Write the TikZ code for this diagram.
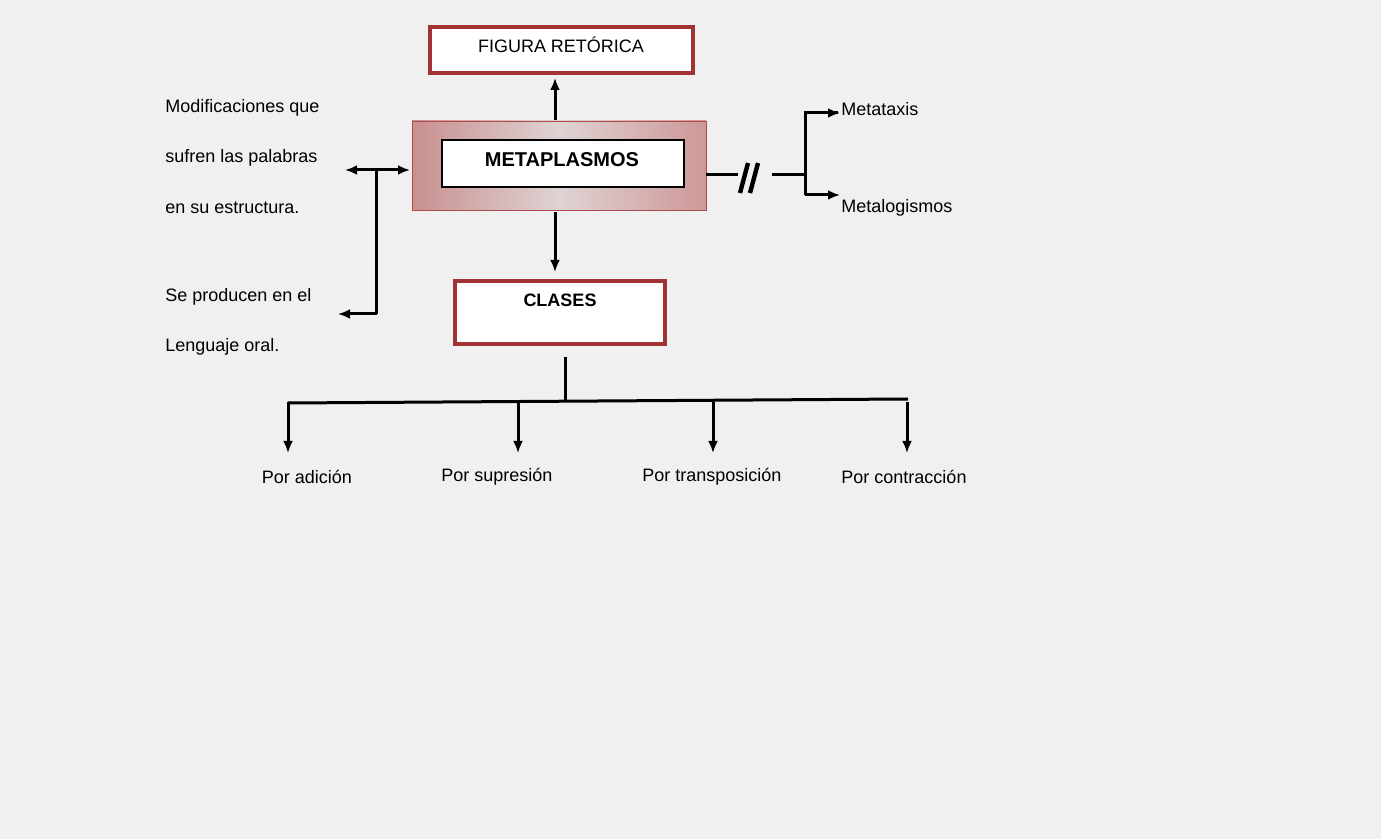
\documentclass[tikz,border=0pt]{standalone}
\usepackage{fontspec}
\setmainfont{Liberation Sans}
\begin{document}
\begin{tikzpicture}[x=0.5pt,y=-0.5pt,
  ln/.style={line width=1.5pt},
  ar/.style={ln,-{Latex[length=6pt,width=5pt]}},
  rbox/.style={draw=red!55!black!80,line width=1.8pt,fill=white},
  lbl/.style={font=\fontsize{9}{11}\selectfont,inner sep=0pt},
  ll/.style={lbl,anchor=west}]
\usetikzlibrary{arrows.meta}
\fill[gray!12] (0,0) rectangle (1381,839);
\useasboundingbox (0,0) rectangle (1381,839);
% boxes
\draw[rbox] (430,27) rectangle (693,73);
\node[lbl] (fig) at (561,45) {FIGURA RETÓRICA};
\coordinate (figb) at (555,78);
\shade[left color=red!35!gray!65, right color=red!35!gray!60, middle color=red!15!gray!30, draw=red!40!gray] (412,121) rectangle (706,210);
\draw[line width=0.9pt,fill=white] (442,140) rectangle (684,187);
\node[lbl,font=\fontsize{10}{12}\selectfont\bfseries] (met) at (562,160) {METAPLASMOS};
\draw[rbox] (455,281) rectangle (665,344);
\node[lbl,font=\fontsize{9}{11}\selectfont\bfseries] (cla) at (560,300) {CLASES};
% vertical arrows
\coordinate (mt) at (555,120);
\coordinate (mb) at (555,212);
\coordinate (ct) at (555,272);
\draw[ar] (mt) -- (figb);
\draw[ar] (mb) -- (ct);
% classes tree
\coordinate (c0) at (565,357);
\coordinate (c1) at (565,401);
\draw[ln] (c0) -- (c1);
\draw[ln] (288,403) -- (908,399);
\foreach \x/\t/\lx in {288/Por adición/307, 518/Por supresión/497, 713/Por transposición/712, 907/Por contracción/904}{
  \draw[ar] (\x,402) -- (\x,453);
  \node[lbl] at (\lx,477) {\t};
}
% left
\draw[ln,{Latex[length=6pt,width=5pt]}-{Latex[length=6pt,width=5pt]}] (345,170) -- (410,170);
\draw[ln] (376,170) -- (376,314);
\draw[ar] (377,314) -- (338,314);
\node[ll] at (165,108) {Modificaciones que};
\node[ll] at (165,158) {sufren las palabras};
\node[ll] at (165,208) {en su estructura.};
\node[ll] at (165,297) {Se producen en el};
\node[ll] at (165,347) {Lenguaje oral.};
% right
\draw[ln] (706,175) -- (738,175);
\draw[line width=2.2pt] (740,193) -- (748,163) (750,193) -- (758,163);
\draw[ln] (772,175) -- (805,175);
\draw[ln] (838,113) -- (805,113) -- (805,195);
\draw[ar] (805,113) -- (840,113);
\draw[ar] (805,195) -- (840,195);
\node[ll] (mtx) at (841,109) {Metataxis};
\node[ll] (mtl) at (841,208) {Metalogismos};
\end{tikzpicture}
\end{document}
